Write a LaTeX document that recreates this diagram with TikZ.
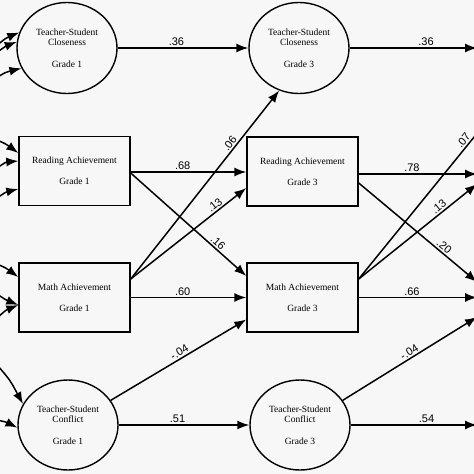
\documentclass[tikz,border=0pt]{standalone}
\usepackage{fontspec}
\setmainfont{Liberation Serif}
\newfontfamily\numfont{Liberation Sans}
\usetikzlibrary{arrows.meta,shapes.geometric}
\definecolor{bgc}{RGB}{247,247,247}
\tikzset{
  arr/.style={line width=1.5pt,-{Latex[length=12pt,width=9pt]}},
  circ/.style={draw,line width=1.4pt,ellipse,minimum width=100pt,minimum height=91pt,inner sep=0pt,align=center,font=\fontsize{9.5}{10.5}\selectfont},
  box/.style={draw,line width=1.4pt,rectangle,minimum width=111pt,minimum height=69pt,inner sep=0pt,align=center,font=\fontsize{9.5}{10.5}\selectfont},
  lab/.style={font=\numfont\fontsize{11}{12}\selectfont,inner sep=1.5pt}
}
\begin{document}
\begin{tikzpicture}[x=1pt,y=-1pt]
\useasboundingbox (0,0) rectangle (474,474);
\fill[bgc] (0,0) rectangle (474,474);
\clip (0,0) rectangle (474,474);
% nodes
\node[circ] (c1) at (67,48) {Teacher-Student\\Closeness\\[11pt]Grade 1};
\node[circ] (c3) at (299,48) {Teacher-Student\\Closeness\\[11pt]Grade 3};
\node[box] (r1) at (74.5,171) {Reading Achievement\\[10.5pt]Grade 1};
\node[box] (r3) at (302.5,171.5) {Reading Achievement\\[10.5pt]Grade 3};
\node[box] (m1) at (74.5,297.5) {Math Achievement\\[10.5pt]Grade 1};
\node[box] (m3) at (302.5,297.5) {Math Achievement\\[10.5pt]Grade 3};
\node[circ,minimum height=90pt] (k1) at (68,425) {Teacher-Student\\Conflict\\[11pt]Grade 1};
\node[circ,minimum height=90pt] (k3) at (300,425) {Teacher-Student\\Conflict\\[11pt]Grade 3};
% off-picture ends
\coordinate (oc) at (477,48);
\coordinate (or) at (477,174);
\coordinate (om) at (477,297.5);
\coordinate (ok) at (477,425);
\coordinate (o07) at (492,115);
\coordinate (o13) at (477,184);
\coordinate (o20) at (477,282);
\coordinate (o04) at (477,317);
% horizontal paths
\draw[arr] (c1.east) -- node[lab,above,pos=0.45] {.36} (c3.west);
\draw[arr] (c3.east) -- node[lab,above,pos=0.6] {.36} (oc);
\draw[arr] ([yshift=-1pt]r1.east) -- node[lab,above,pos=0.45] {.68} ([yshift=-1pt]r1.east -| r3.west);
\draw[arr] ([yshift=-2.5pt]r3.east) -- node[lab,above,pos=0.45] {.78} (or);
\draw[arr] (m1.east) -- node[lab,above,pos=0.45] {.60} (m3.west);
\draw[arr] (m3.east) -- node[lab,above,pos=0.45] {.66} (om);
\draw[arr] (k1.east) -- node[lab,above,pos=0.45] {.51} (k3.west);
\draw[arr] (k3.east) -- node[lab,above,pos=0.6] {.54} (ok);
% cross paths grade 1 -> grade 3
\draw[arr] ([yshift=18.5pt]m1.east) -- node[lab,above,sloped,pos=0.70] {.06} (c3.245);
\draw[arr] ([yshift=18.5pt]m1.east) -- node[lab,above,sloped,pos=0.76] {.13} ([yshift=-16.5pt]r3.west);
\draw[arr] ([yshift=-2pt]r1.east) -- node[lab,above,sloped,pos=0.72] {.16} ([yshift=21.5pt]m3.west);
\draw[arr] (k1.30) -- node[lab,above,sloped,pos=0.53] {-.04} ([yshift=-22pt]m3.west);
% cross paths grade 3 -> next
\draw[arr] ([yshift=18.5pt]m3.east) -- node[lab,above,sloped,pos=0.82] {.07} (o07);
\draw[arr] ([yshift=18.5pt]m3.east) -- node[lab,above,sloped,pos=0.71] {.13} (o13);
\draw[arr] ([yshift=-11.5pt]r3.east) -- node[lab,above,sloped,pos=0.69] {.20} (o20);
\draw[arr] (k3.30) -- node[lab,above,sloped,pos=0.52] {-.04} (o04);
% incoming covariance ends on the left
\coordinate (t1) at (-4,46);
\coordinate (t2) at (-4,53);
\coordinate (t3) at (-4,78);
\coordinate (t4) at (-3,140);
\coordinate (t5) at (-3,168);
\coordinate (t6) at (-3,198);
\coordinate (t7) at (-3,264);
\coordinate (t8) at (-3,294);
\coordinate (t9) at (-3,318);
\coordinate (t10) at (-2,366);
\coordinate (t11) at (-3,420);
\draw[arr] (t1) .. controls (6,38) .. (c1.162);
\draw[arr] (t2) .. controls (6,46) .. (c1.173);
\draw[arr] (t3) .. controls (6,72) .. (c1.204);
\draw[arr] (t4) .. controls (6,144) .. ([yshift=18pt]r1.west);
\draw[arr] (t5) .. controls (6,162) .. ([yshift=10pt]r1.west);
\draw[arr] (t6) .. controls (6,192) .. ([yshift=-18pt]r1.west);
\draw[arr] (t7) .. controls (6,268) .. ([yshift=20.5pt]m1.west);
\draw[arr] (t8) .. controls (6,300) .. ([yshift=-7.5pt]m1.west);
\draw[arr] (t9) .. controls (6,310) .. ([yshift=-7.5pt]m1.west);
\draw[arr] (t10) .. controls (10,380) .. (k1.155);
\draw[arr] (t11) .. controls (6,422) .. (k1.183);
\end{tikzpicture}
\end{document}
